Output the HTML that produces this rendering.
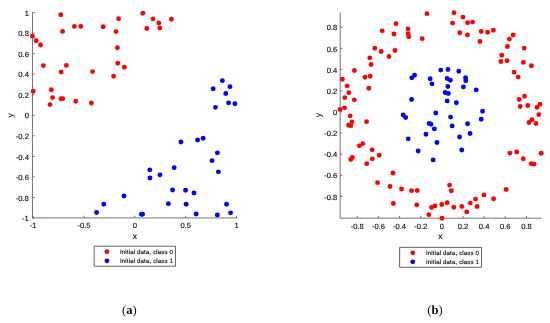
<!DOCTYPE html>
<html><head><meta charset="utf-8"><title>Figure</title>
<style>
html,body{margin:0;padding:0;background:#fff;}
svg{display:block;text-rendering:geometricPrecision;}
.t{font-family:"Liberation Sans",sans-serif;font-size:7.6px;fill:#111;stroke:#111;stroke-width:0.15px;}
.lg{font-family:"Liberation Sans",sans-serif;font-size:6.1px;fill:#111;stroke:#111;stroke-width:0.15px;}
.cap{font-family:"Liberation Serif","DejaVu Serif",serif;font-size:12.6px;fill:#111;}
</style></head><body>
<svg width="550" height="323" viewBox="0 0 550 323">
<rect width="550" height="323" fill="#fff"/>
<g transform="rotate(0.01)">
<g stroke="#666" stroke-width="0.9" fill="none"><path d="M32.5 12.4V217.9H237.4"/><path d="M33.2 217.9v-2.2"/><path d="M84.05000000000001 217.9v-2.2"/><path d="M134.9 217.9v-2.2"/><path d="M185.75 217.9v-2.2"/><path d="M236.60000000000002 217.9v-2.2"/><path d="M32.5 12.5h2.2"/><path d="M32.5 33.05h2.2"/><path d="M32.5 53.6h2.2"/><path d="M32.5 74.15h2.2"/><path d="M32.5 94.7h2.2"/><path d="M32.5 115.25h2.2"/><path d="M32.5 135.8h2.2"/><path d="M32.5 156.35h2.2"/><path d="M32.5 176.9h2.2"/><path d="M32.5 197.45000000000002h2.2"/><path d="M32.5 218.0h2.2"/></g>
<text class="t" x="33.2" y="228.3" text-anchor="middle">-1</text><text class="t" x="84.05000000000001" y="228.3" text-anchor="middle">-0.5</text><text class="t" x="134.9" y="228.3" text-anchor="middle">0</text><text class="t" x="185.75" y="228.3" text-anchor="middle">0.5</text><text class="t" x="236.60000000000002" y="228.3" text-anchor="middle">1</text><text class="t" x="28.9" y="15.7" text-anchor="end">1</text><text class="t" x="28.9" y="36.25" text-anchor="end">0.8</text><text class="t" x="28.9" y="56.800000000000004" text-anchor="end">0.6</text><text class="t" x="28.9" y="77.35000000000001" text-anchor="end">0.4</text><text class="t" x="28.9" y="97.9" text-anchor="end">0.2</text><text class="t" x="28.9" y="118.45" text-anchor="end">0</text><text class="t" x="28.9" y="139.0" text-anchor="end">-0.2</text><text class="t" x="28.9" y="159.54999999999998" text-anchor="end">-0.4</text><text class="t" x="28.9" y="180.1" text-anchor="end">-0.6</text><text class="t" x="28.9" y="200.65" text-anchor="end">-0.8</text><text class="t" x="28.9" y="221.2" text-anchor="end">-1</text>
<text class="t" x="134.8" y="238.9" text-anchor="middle" style="font-size:8.5px">x</text><text class="t" transform="translate(13.5,115.4) rotate(-90)" text-anchor="middle" style="font-size:8.5px">y</text>
<g stroke="#666" stroke-width="0.9" fill="none"><path d="M340.2 12.4V218.1H541.4"/><path d="M357.3 218.1v-2.2"/><path d="M378.45 218.1v-2.2"/><path d="M399.6 218.1v-2.2"/><path d="M420.75 218.1v-2.2"/><path d="M441.9 218.1v-2.2"/><path d="M463.05 218.1v-2.2"/><path d="M484.2 218.1v-2.2"/><path d="M505.35 218.1v-2.2"/><path d="M526.5 218.1v-2.2"/><path d="M340.2 27.2h2.2"/><path d="M340.2 48.349999999999994h2.2"/><path d="M340.2 69.5h2.2"/><path d="M340.2 90.64999999999999h2.2"/><path d="M340.2 111.8h2.2"/><path d="M340.2 132.95h2.2"/><path d="M340.2 154.1h2.2"/><path d="M340.2 175.24999999999997h2.2"/><path d="M340.2 196.39999999999998h2.2"/></g>
<text class="t" x="357.3" y="228.5" text-anchor="middle">-0.8</text><text class="t" x="378.45" y="228.5" text-anchor="middle">-0.6</text><text class="t" x="399.6" y="228.5" text-anchor="middle">-0.4</text><text class="t" x="420.75" y="228.5" text-anchor="middle">-0.2</text><text class="t" x="441.9" y="228.5" text-anchor="middle">0</text><text class="t" x="463.05" y="228.5" text-anchor="middle">0.2</text><text class="t" x="484.2" y="228.5" text-anchor="middle">0.4</text><text class="t" x="505.35" y="228.5" text-anchor="middle">0.6</text><text class="t" x="526.5" y="228.5" text-anchor="middle">0.8</text><text class="t" x="337.3" y="30.4" text-anchor="end">0.8</text><text class="t" x="337.3" y="51.55" text-anchor="end">0.6</text><text class="t" x="337.3" y="72.7" text-anchor="end">0.4</text><text class="t" x="337.3" y="93.85" text-anchor="end">0.2</text><text class="t" x="337.3" y="115.0" text-anchor="end">0</text><text class="t" x="337.3" y="136.14999999999998" text-anchor="end">-0.2</text><text class="t" x="337.3" y="157.29999999999998" text-anchor="end">-0.4</text><text class="t" x="337.3" y="178.44999999999996" text-anchor="end">-0.6</text><text class="t" x="337.3" y="199.59999999999997" text-anchor="end">-0.8</text>
<text class="t" x="440.5" y="238.9" text-anchor="middle" style="font-size:8.5px">x</text><text class="t" transform="translate(320.6,115) rotate(-90)" text-anchor="middle" style="font-size:8.5px">y</text>
<g fill="#ff0000"><circle cx="60.8" cy="14.8" r="2.45"/><circle cx="74.4" cy="26.4" r="2.45"/><circle cx="80.8" cy="26.4" r="2.45"/><circle cx="103.2" cy="26.8" r="2.45"/><circle cx="62.6" cy="31.4" r="2.45"/><circle cx="32.4" cy="36.2" r="2.45"/><circle cx="36.2" cy="40.8" r="2.45"/><circle cx="40.6" cy="45.0" r="2.45"/><circle cx="118.6" cy="18.8" r="2.45"/><circle cx="142.8" cy="13.2" r="2.45"/><circle cx="153" cy="18.8" r="2.45"/><circle cx="158.8" cy="23.0" r="2.45"/><circle cx="171.4" cy="19.2" r="2.45"/><circle cx="146.8" cy="28.4" r="2.45"/><circle cx="159.8" cy="28.0" r="2.45"/><circle cx="116" cy="31.6" r="2.45"/><circle cx="117.4" cy="47.8" r="2.45"/><circle cx="117.8" cy="63.2" r="2.45"/><circle cx="43.4" cy="65.6" r="2.45"/><circle cx="66.4" cy="65.4" r="2.45"/><circle cx="61.2" cy="72.0" r="2.45"/><circle cx="92.6" cy="71.6" r="2.45"/><circle cx="33.2" cy="91.2" r="2.45"/><circle cx="51.4" cy="89.8" r="2.45"/><circle cx="52.6" cy="97.6" r="2.45"/><circle cx="61" cy="98.8" r="2.45"/><circle cx="62.8" cy="98.6" r="2.45"/><circle cx="75.8" cy="101.2" r="2.45"/><circle cx="91.4" cy="103.0" r="2.45"/><circle cx="50" cy="104.6" r="2.45"/><circle cx="124.4" cy="67.2" r="2.45"/><circle cx="113.6" cy="76.2" r="2.45"/></g>
<g fill="#0000ff"><circle cx="222.4" cy="80.6" r="2.45"/><circle cx="213.2" cy="88.7" r="2.45"/><circle cx="230" cy="86.6" r="2.45"/><circle cx="225.8" cy="93.4" r="2.45"/><circle cx="228.6" cy="102.8" r="2.45"/><circle cx="234.9" cy="103.7" r="2.45"/><circle cx="215.5" cy="107.3" r="2.45"/><circle cx="181" cy="142.0" r="2.45"/><circle cx="197.6" cy="140.0" r="2.45"/><circle cx="203.2" cy="138.2" r="2.45"/><circle cx="217.4" cy="152.8" r="2.45"/><circle cx="212.1" cy="160.6" r="2.45"/><circle cx="149.8" cy="169.8" r="2.45"/><circle cx="174.2" cy="167.6" r="2.45"/><circle cx="160" cy="174.8" r="2.45"/><circle cx="150" cy="178.0" r="2.45"/><circle cx="172.6" cy="190.0" r="2.45"/><circle cx="185.6" cy="190.2" r="2.45"/><circle cx="194" cy="193.0" r="2.45"/><circle cx="124" cy="196.0" r="2.45"/><circle cx="168.4" cy="203.6" r="2.45"/><circle cx="186.2" cy="204.2" r="2.45"/><circle cx="103.8" cy="204.2" r="2.45"/><circle cx="96.6" cy="212.5" r="2.45"/><circle cx="141.4" cy="214.2" r="2.45"/><circle cx="142.6" cy="214.2" r="2.45"/><circle cx="196.2" cy="214.0" r="2.45"/><circle cx="218.4" cy="171.8" r="2.45"/><circle cx="226.6" cy="204.2" r="2.45"/><circle cx="217.4" cy="215.0" r="2.45"/><circle cx="230.6" cy="212.8" r="2.45"/></g>
<g fill="#ff0000"><circle cx="427" cy="13.6" r="2.45"/><circle cx="396" cy="23.6" r="2.45"/><circle cx="408" cy="28.8" r="2.45"/><circle cx="382.2" cy="30.8" r="2.45"/><circle cx="394" cy="34.0" r="2.45"/><circle cx="408.2" cy="33.6" r="2.45"/><circle cx="408.8" cy="36.8" r="2.45"/><circle cx="422.2" cy="38.6" r="2.45"/><circle cx="374.8" cy="48.2" r="2.45"/><circle cx="381.2" cy="51.4" r="2.45"/><circle cx="395" cy="50.4" r="2.45"/><circle cx="389" cy="56.4" r="2.45"/><circle cx="369.8" cy="57.8" r="2.45"/><circle cx="371.1" cy="64.4" r="2.45"/><circle cx="454" cy="12.6" r="2.45"/><circle cx="463" cy="17.0" r="2.45"/><circle cx="452.6" cy="23.0" r="2.45"/><circle cx="467.6" cy="22.6" r="2.45"/><circle cx="472.6" cy="22.0" r="2.45"/><circle cx="459.8" cy="32.6" r="2.45"/><circle cx="467.4" cy="34.8" r="2.45"/><circle cx="481.2" cy="31.4" r="2.45"/><circle cx="487.6" cy="32.2" r="2.45"/><circle cx="493.4" cy="30.2" r="2.45"/><circle cx="480" cy="41.4" r="2.45"/><circle cx="513.2" cy="34.8" r="2.45"/><circle cx="509.4" cy="39.0" r="2.45"/><circle cx="507.4" cy="46.4" r="2.45"/><circle cx="524.2" cy="48.0" r="2.45"/><circle cx="501.8" cy="55.2" r="2.45"/><circle cx="501" cy="61.4" r="2.45"/><circle cx="507" cy="60.6" r="2.45"/><circle cx="523.4" cy="62.3" r="2.45"/><circle cx="531.4" cy="65.6" r="2.45"/><circle cx="354.4" cy="70.4" r="2.45"/><circle cx="370.2" cy="76.2" r="2.45"/><circle cx="365" cy="77.2" r="2.45"/><circle cx="342.4" cy="79.2" r="2.45"/><circle cx="347.2" cy="85.8" r="2.45"/><circle cx="368.8" cy="88.2" r="2.45"/><circle cx="348.8" cy="92.6" r="2.45"/><circle cx="344.8" cy="97.6" r="2.45"/><circle cx="354.4" cy="99.8" r="2.45"/><circle cx="344.6" cy="107.8" r="2.45"/><circle cx="340" cy="109.4" r="2.45"/><circle cx="350.2" cy="115.8" r="2.45"/><circle cx="514.1" cy="72.2" r="2.45"/><circle cx="518.2" cy="77.0" r="2.45"/><circle cx="524.6" cy="96.2" r="2.45"/><circle cx="519.2" cy="99.4" r="2.45"/><circle cx="520.2" cy="106.4" r="2.45"/><circle cx="527.8" cy="105.4" r="2.45"/><circle cx="540" cy="104.2" r="2.45"/><circle cx="537.1" cy="107.1" r="2.45"/><circle cx="538.8" cy="114.5" r="2.45"/><circle cx="532" cy="119.6" r="2.45"/><circle cx="529" cy="122.4" r="2.45"/><circle cx="536" cy="123.4" r="2.45"/><circle cx="352" cy="121.8" r="2.45"/><circle cx="366.6" cy="121.6" r="2.45"/><circle cx="348.6" cy="125.2" r="2.45"/><circle cx="351" cy="125.6" r="2.45"/><circle cx="359.4" cy="145.8" r="2.45"/><circle cx="362.8" cy="143.6" r="2.45"/><circle cx="372.2" cy="149.8" r="2.45"/><circle cx="379.2" cy="155.2" r="2.45"/><circle cx="372.4" cy="158.8" r="2.45"/><circle cx="352.4" cy="157.4" r="2.45"/><circle cx="350.8" cy="159.4" r="2.45"/><circle cx="366.8" cy="163.6" r="2.45"/><circle cx="393" cy="172.9" r="2.45"/><circle cx="509.9" cy="153.0" r="2.45"/><circle cx="516.8" cy="151.9" r="2.45"/><circle cx="523.3" cy="158.7" r="2.45"/><circle cx="541.2" cy="153.2" r="2.45"/><circle cx="531.4" cy="163.6" r="2.45"/><circle cx="534.2" cy="164.0" r="2.45"/><circle cx="377.6" cy="182.6" r="2.45"/><circle cx="390" cy="186.4" r="2.45"/><circle cx="401.6" cy="189.0" r="2.45"/><circle cx="411.6" cy="190.6" r="2.45"/><circle cx="417.2" cy="190.4" r="2.45"/><circle cx="393.4" cy="203.4" r="2.45"/><circle cx="416.8" cy="204.8" r="2.45"/><circle cx="428.9" cy="214.6" r="2.45"/><circle cx="449.6" cy="185.0" r="2.45"/><circle cx="451.4" cy="190.6" r="2.45"/><circle cx="506.2" cy="189.4" r="2.45"/><circle cx="484" cy="194.8" r="2.45"/><circle cx="493.6" cy="198.6" r="2.45"/><circle cx="475.6" cy="199.0" r="2.45"/><circle cx="470.4" cy="203.0" r="2.45"/><circle cx="477.2" cy="206.4" r="2.45"/><circle cx="447.2" cy="202.6" r="2.45"/><circle cx="441.8" cy="204.4" r="2.45"/><circle cx="435" cy="205.8" r="2.45"/><circle cx="431.6" cy="207.4" r="2.45"/><circle cx="453.8" cy="207.2" r="2.45"/><circle cx="461.8" cy="206.4" r="2.45"/><circle cx="466.8" cy="211.8" r="2.45"/><circle cx="442" cy="218.2" r="2.45"/></g>
<g fill="#0000ff"><circle cx="414.6" cy="75.2" r="2.45"/><circle cx="411.8" cy="77.8" r="2.45"/><circle cx="430.2" cy="78.7" r="2.45"/><circle cx="411.6" cy="99.4" r="2.45"/><circle cx="403.2" cy="115.0" r="2.45"/><circle cx="405.7" cy="117.4" r="2.45"/><circle cx="440.8" cy="70.0" r="2.45"/><circle cx="448" cy="69.4" r="2.45"/><circle cx="458.8" cy="71.2" r="2.45"/><circle cx="447.2" cy="78.4" r="2.45"/><circle cx="450.4" cy="80.2" r="2.45"/><circle cx="465.6" cy="77.6" r="2.45"/><circle cx="465.8" cy="80.6" r="2.45"/><circle cx="432" cy="83.8" r="2.45"/><circle cx="447.8" cy="86.4" r="2.45"/><circle cx="463.4" cy="86.8" r="2.45"/><circle cx="476.2" cy="89.8" r="2.45"/><circle cx="445.2" cy="92.4" r="2.45"/><circle cx="448.4" cy="93.4" r="2.45"/><circle cx="447.2" cy="100.8" r="2.45"/><circle cx="456.4" cy="102.6" r="2.45"/><circle cx="482.6" cy="111.2" r="2.45"/><circle cx="435.8" cy="112.9" r="2.45"/><circle cx="450.6" cy="117.0" r="2.45"/><circle cx="481.2" cy="119.1" r="2.45"/><circle cx="429.2" cy="123.5" r="2.45"/><circle cx="431" cy="124.2" r="2.45"/><circle cx="467.6" cy="123.6" r="2.45"/><circle cx="452.2" cy="125.8" r="2.45"/><circle cx="434.4" cy="128.8" r="2.45"/><circle cx="426" cy="134.2" r="2.45"/><circle cx="470.1" cy="133.4" r="2.45"/><circle cx="459.6" cy="136.9" r="2.45"/><circle cx="437" cy="142.4" r="2.45"/><circle cx="461.8" cy="149.9" r="2.45"/><circle cx="433.2" cy="159.8" r="2.45"/><circle cx="418.2" cy="151.0" r="2.45"/><circle cx="408.2" cy="138.8" r="2.45"/></g>
<rect x="94.2" y="246.2" width="81.3" height="20.0" fill="#fff" stroke="#3a3a3a" stroke-width="0.8"/><circle cx="107" cy="251.7" r="2.4" fill="#ff0000"/><circle cx="107" cy="260.8" r="2.4" fill="#0000ff"/><text class="lg" x="120" y="253.8" textLength="53" lengthAdjust="spacing">Initial data, class 0</text><text class="lg" x="120" y="262.9" textLength="53" lengthAdjust="spacing">Initial data, class 1</text>
<rect x="399.7" y="247.3" width="81.8" height="19.9" fill="#fff" stroke="#3a3a3a" stroke-width="0.8"/><circle cx="412.8" cy="252.8" r="2.4" fill="#ff0000"/><circle cx="412.8" cy="261.8" r="2.4" fill="#0000ff"/><text class="lg" x="426" y="255" textLength="53" lengthAdjust="spacing">Initial data, class 0</text><text class="lg" x="426" y="264" textLength="53" lengthAdjust="spacing">Initial data, class 1</text>
<text class="cap" x="129.5" y="314" text-anchor="middle">(<tspan font-weight="bold">a</tspan>)</text><text class="cap" x="435" y="314" text-anchor="middle">(<tspan font-weight="bold">b</tspan>)</text>
</g>
</svg></body></html>
